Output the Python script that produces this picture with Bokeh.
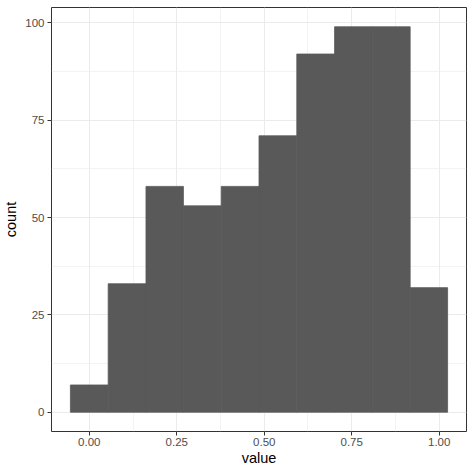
from bokeh.plotting import figure
from bokeh.models import Range1d, FixedTicker, PrintfTickFormatter
from bokeh.embed import file_html
from bokeh.resources import INLINE

# histogram bins (edges) and counts
bin_edges = [-0.054, 0.054, 0.162, 0.269, 0.377, 0.485, 0.593, 0.701, 0.809, 0.917, 1.024]
counts = [7, 33, 58, 53, 58, 71, 92, 99, 99, 32]

x_ticks = [0.0, 0.25, 0.5, 0.75, 1.0]
x_minor = [-0.125, 0.125, 0.375, 0.625, 0.875, 1.125]
y_ticks = [0, 25, 50, 75, 100]
y_minor = [12.5, 37.5, 62.5, 87.5]

p = figure(width=467, height=472, output_backend="svg", toolbar_location=None,
           x_range=Range1d(-0.108, 1.078), y_range=Range1d(-4.95, 103.95),
           min_border_top=7, min_border_right=1, min_border_left=51, min_border_bottom=41)

p.quad(left=bin_edges[:-1], right=bin_edges[1:], top=counts, bottom=0,
       fill_color="#595959", line_color="#595959", line_width=0.8)

p.background_fill_color = "white"
p.border_fill_color = "white"
p.outline_line_color = "#333333"
p.outline_line_width = 1

p.xaxis.ticker = FixedTicker(ticks=x_ticks, minor_ticks=x_minor)
p.yaxis.ticker = FixedTicker(ticks=y_ticks, minor_ticks=y_minor)
p.xaxis.formatter = PrintfTickFormatter(format="%.2f")

for g in [p.xgrid[0], p.ygrid[0]]:
    g.grid_line_color = "#EBEBEB"
    g.grid_line_width = 1
    g.minor_grid_line_color = "#EBEBEB"
    g.minor_grid_line_width = 0.6

p.xaxis.axis_label = "value"
p.yaxis.axis_label = "count"
for ax in [p.xaxis[0], p.yaxis[0]]:
    ax.axis_line_color = None
    ax.major_tick_line_color = "#333333"
    ax.major_tick_out = 4
    ax.major_tick_in = 0
    ax.minor_tick_line_color = None
    ax.major_label_text_font = "Liberation Sans"
    ax.major_label_text_font_size = "11.5px"
    ax.major_label_text_color = "#4D4D4D"
    ax.axis_label_text_font = "Liberation Sans"
    ax.axis_label_text_font_size = "14.5px"
    ax.axis_label_text_font_style = "normal"
    ax.axis_label_text_color = "black"

p.xaxis.major_label_standoff = 2
p.xaxis.axis_label_standoff = 1
p.yaxis.major_label_standoff = 3
p.yaxis.axis_label_standoff = 3

open("out.html", "w").write(file_html(p, INLINE))
